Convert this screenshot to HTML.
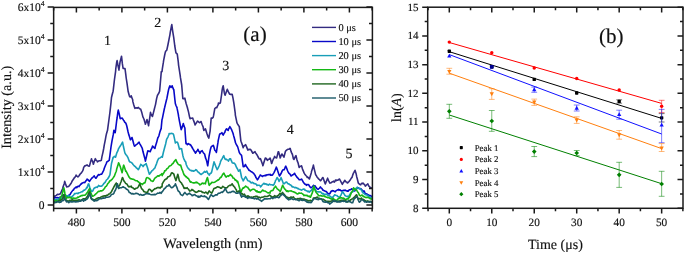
<!DOCTYPE html><html><head><meta charset="utf-8"><title>Figure</title><style>html,body{margin:0;padding:0;background:#fff}svg{display:block}text{font-family:"Liberation Serif","DejaVu Serif",serif;fill:#111;stroke:#111;stroke-width:0.15px;text-rendering:geometricPrecision}</style></head><body>
<svg width="685" height="254" viewBox="0 0 685 254">
<rect width="685" height="254" fill="#fff"/>
<clipPath id="ca"><rect x="53.65" y="7.4" width="318.75" height="201.0"/></clipPath>
<g clip-path="url(#ca)" fill="none" stroke-width="1.6" stroke-linejoin="round" stroke-linecap="round">
<path d="M54.0 196.5 L54.0 196.1 L55.1 196.1 L56.3 195.3 L57.4 194.4 L58.6 194.5 L59.7 194.0 L60.3 194.0 L60.8 192.8 L62.0 190.2 L62.7 188.5 L63.1 186.8 L64.3 183.4 L64.7 181.4 L65.4 183.6 L66.5 186.5 L66.6 186.9 L67.7 186.8 L68.8 186.2 L69.0 186.1 L70.0 184.8 L71.1 183.2 L71.3 183.0 L72.2 180.9 L73.4 179.3 L74.5 177.5 L74.5 177.7 L75.7 176.2 L76.1 175.1 L76.8 176.1 L77.7 176.7 L77.9 176.9 L79.1 175.7 L80.0 174.3 L80.2 174.0 L81.4 172.9 L82.5 171.1 L83.2 169.6 L83.6 167.7 L84.7 165.8 L84.8 166.2 L85.9 165.5 L87.1 164.9 L87.1 165.1 L88.2 165.9 L89.3 166.2 L89.5 165.8 L90.5 162.1 L91.5 158.7 L91.6 159.2 L92.8 162.0 L93.4 164.3 L93.9 162.6 L95.0 159.5 L95.3 158.7 L96.2 160.4 L97.3 161.1 L97.4 161.9 L98.5 161.1 L99.6 160.7 L100.7 160.7 L101.3 160.3 L101.9 156.9 L103.0 152.1 L103.7 148.5 L104.2 145.4 L105.3 139.8 L106.0 135.9 L106.4 134.1 L107.6 130.1 L107.6 129.6 L108.7 121.5 L109.9 112.5 L110.0 111.7 L111.0 102.6 L111.5 97.5 L112.1 95.0 L113.1 91.2 L113.3 89.8 L114.4 80.0 L115.6 71.3 L115.8 68.5 L116.7 62.3 L117.1 60.6 L117.8 64.5 L119.0 70.1 L119.0 69.4 L120.1 61.6 L120.2 61.4 L121.3 57.1 L121.5 56.2 L122.4 63.9 L123.1 68.5 L123.5 68.3 L124.7 68.8 L125.0 68.5 L125.8 74.7 L126.2 78.0 L127.0 83.1 L128.1 91.1 L128.1 91.2 L129.2 95.3 L129.7 96.7 L130.4 96.9 L131.3 95.9 L131.5 96.9 L132.7 99.8 L132.8 101.4 L133.8 105.0 L134.7 107.7 L134.9 108.4 L136.1 107.8 L137.2 108.2 L137.6 107.7 L138.4 107.4 L139.5 108.8 L140.6 109.0 L140.7 109.3 L141.8 112.6 L142.9 116.9 L143.1 117.2 L144.1 119.5 L145.2 123.4 L145.4 124.3 L146.3 121.7 L147.0 119.5 L147.5 121.2 L148.6 125.8 L148.6 125.5 L149.8 117.4 L150.5 112.4 L150.9 113.5 L152.0 115.9 L152.5 116.4 L153.2 113.6 L154.3 109.3 L154.9 106.9 L155.5 104.6 L156.6 98.6 L157.3 95.9 L157.7 94.9 L158.9 93.0 L159.6 91.2 L160.0 86.7 L161.2 72.8 L161.2 71.7 L162.0 71.7 L162.3 69.1 L163.4 62.2 L163.6 60.6 L164.6 55.5 L165.2 52.7 L165.7 51.1 L166.7 50.4 L166.9 49.6 L168.0 44.5 L169.1 38.8 L169.9 34.8 L170.3 32.2 L171.4 26.3 L171.8 24.6 L172.6 30.6 L173.0 33.2 L173.7 37.4 L174.8 46.0 L175.9 52.7 L176.0 52.9 L177.1 53.9 L177.3 54.3 L178.3 62.2 L178.6 65.3 L179.4 70.4 L180.1 74.8 L180.5 77.9 L181.7 85.0 L181.7 85.0 L182.8 98.2 L182.8 98.6 L184.0 98.6 L184.9 98.2 L185.1 99.5 L186.2 103.8 L187.2 106.9 L187.4 107.8 L188.5 111.9 L189.7 117.6 L190.1 118.7 L190.8 118.3 L191.9 118.3 L192.7 118.0 L193.1 119.3 L194.2 122.1 L195.1 125.0 L195.4 124.2 L196.5 122.7 L197.5 121.1 L197.6 121.0 L198.8 122.1 L199.5 122.7 L199.9 122.4 L201.1 121.5 L201.1 121.9 L202.2 124.8 L203.3 127.4 L203.3 128.3 L203.8 130.4 L204.5 129.7 L205.4 128.8 L205.6 129.3 L206.8 133.3 L206.9 133.5 L207.9 136.4 L208.8 138.2 L209.0 137.2 L210.1 131.2 L210.2 129.9 L211.2 118.0 L211.3 118.0 L212.5 118.1 L213.2 117.2 L213.6 115.4 L214.7 109.1 L214.8 108.5 L215.9 107.6 L216.9 107.7 L217.0 107.0 L218.2 104.7 L218.4 103.0 L219.3 103.4 L220.3 103.0 L220.4 102.7 L221.6 94.5 L222.2 89.6 L222.7 87.2 L223.2 85.8 L223.9 90.1 L224.3 92.7 L225.0 95.1 L225.1 95.1 L226.1 92.5 L227.3 89.3 L227.4 89.6 L228.4 91.8 L229.6 94.0 L229.8 94.3 L230.7 94.4 L231.8 94.3 L232.2 94.3 L233.0 98.2 L233.7 102.2 L234.1 104.8 L235.3 113.7 L235.3 114.8 L236.4 120.2 L236.9 122.7 L237.5 123.9 L238.7 125.8 L239.3 126.6 L239.8 131.2 L240.8 140.6 L241.0 141.3 L242.1 144.3 L243.2 147.7 L243.2 147.2 L244.4 145.6 L245.5 144.8 L245.6 144.6 L246.7 147.1 L247.8 149.9 L247.9 150.1 L248.9 149.3 L250.1 149.6 L250.3 149.3 L251.2 150.3 L252.4 152.5 L252.7 153.2 L253.5 152.7 L254.6 152.0 L255.0 151.7 L255.8 153.1 L256.9 154.7 L258.1 156.9 L258.2 157.2 L259.2 158.7 L260.3 159.2 L260.5 158.7 L261.5 161.5 L262.6 164.5 L262.9 165.8 L263.8 162.8 L264.9 159.2 L265.3 158.0 L266.0 158.2 L267.2 160.0 L267.6 160.3 L268.3 159.2 L269.5 159.1 L270.0 158.0 L270.3 158.7 L270.6 159.6 L271.6 163.5 L271.7 163.4 L272.9 160.1 L273.1 159.5 L274.0 157.8 L274.7 156.4 L275.2 157.5 L276.3 157.7 L276.6 158.0 L277.4 155.1 L278.2 151.7 L278.6 151.8 L279.7 155.8 L280.2 158.0 L280.9 156.1 L281.8 154.0 L282.0 154.0 L283.1 155.8 L283.9 157.2 L284.3 155.7 L285.4 151.5 L285.8 150.9 L286.6 150.2 L287.7 149.3 L288.1 149.3 L288.8 149.3 L290.0 148.4 L290.2 148.5 L291.1 151.6 L292.1 154.0 L292.3 153.9 L293.4 158.8 L294.0 159.5 L294.5 158.3 L295.7 155.8 L296.0 155.6 L296.8 159.2 L297.6 161.9 L298.0 162.6 L299.1 167.3 L299.2 167.4 L300.2 166.2 L301.4 166.2 L301.5 165.8 L302.5 169.1 L303.7 171.9 L303.9 172.7 L304.8 174.2 L305.9 175.5 L307.1 176.7 L307.1 177.5 L308.2 177.4 L309.4 179.0 L309.4 179.0 L310.5 175.6 L311.3 172.7 L311.6 171.2 L312.8 167.6 L313.4 165.1 L313.9 167.6 L315.1 172.4 L315.7 175.1 L316.2 175.3 L317.3 177.5 L318.1 178.2 L318.5 178.8 L319.6 179.7 L320.4 180.6 L320.8 180.6 L321.9 178.8 L322.8 177.5 L323.0 177.6 L324.2 181.0 L325.2 183.8 L325.3 183.9 L326.5 181.0 L327.6 178.2 L327.6 178.4 L328.7 180.8 L329.9 183.2 L329.9 183.0 L331.0 182.8 L332.2 181.8 L333.1 181.4 L333.3 181.2 L334.4 182.1 L335.6 180.0 L336.2 180.6 L336.7 180.1 L337.9 180.3 L339.0 179.2 L339.4 179.0 L340.1 180.2 L341.3 182.3 L342.4 184.4 L342.5 183.8 L343.6 182.3 L344.7 180.3 L344.9 180.6 L345.8 181.8 L347.0 182.2 L347.3 183.0 L348.1 182.5 L349.3 181.3 L349.6 180.6 L350.4 179.7 L351.5 177.8 L352.0 177.5 L352.7 175.1 L353.6 172.7 L353.8 172.7 L355.0 170.5 L355.1 170.4 L356.1 173.7 L356.7 176.7 L357.2 178.5 L358.3 183.0 L358.4 182.9 L359.5 184.2 L360.7 184.8 L360.7 184.6 L361.8 183.2 L362.9 183.7 L363.0 183.0 L364.1 184.2 L365.2 185.6 L365.4 186.1 L366.4 185.0 L367.5 184.1 L367.8 183.8 L368.6 185.8 L369.8 186.9 L370.1 187.7 L370.9 187.8 L372.1 188.3 L372.2 188.5 L372.2 188.5" stroke="#332b80"/>
<path d="M54.0 198.4 L54.0 198.0 L55.1 197.6 L56.3 197.8 L57.4 197.5 L58.6 198.1 L58.7 198.0 L59.7 197.2 L60.8 197.2 L61.9 196.4 L62.0 195.7 L63.1 195.2 L64.2 194.8 L64.3 195.2 L65.4 195.2 L66.5 195.9 L67.4 196.4 L67.7 196.0 L68.8 195.3 L69.8 194.8 L70.0 194.7 L71.1 192.6 L72.2 191.1 L72.9 190.1 L73.4 190.2 L74.5 188.2 L75.7 187.6 L76.1 186.9 L76.8 187.6 L77.9 186.2 L79.1 186.6 L79.2 186.1 L80.2 184.9 L81.4 183.5 L81.6 183.8 L82.5 182.9 L83.6 182.5 L84.7 182.2 L84.8 182.6 L85.9 180.9 L87.1 179.6 L87.1 179.0 L88.2 179.9 L89.3 181.2 L89.5 181.4 L90.5 179.8 L91.6 178.5 L91.8 178.2 L92.8 177.3 L93.9 176.2 L94.2 175.9 L95.0 177.2 L95.8 178.2 L96.2 178.2 L97.3 176.2 L98.2 175.1 L98.5 174.5 L99.6 174.9 L100.7 174.2 L101.3 174.3 L101.9 173.9 L103.0 171.6 L103.7 170.4 L104.2 168.5 L105.3 165.8 L106.4 163.2 L106.8 161.9 L107.6 161.5 L108.7 160.7 L109.2 160.3 L109.9 155.5 L111.0 147.0 L111.5 143.8 L112.1 140.4 L113.3 134.4 L113.9 130.4 L114.4 131.5 L115.2 132.7 L115.6 129.6 L116.7 120.5 L117.1 118.0 L117.8 112.5 L118.3 110.1 L119.0 112.9 L120.1 118.1 L120.2 118.7 L121.3 118.2 L122.1 118.0 L122.4 118.4 L123.5 120.2 L124.2 121.1 L124.7 122.1 L125.8 123.1 L126.5 125.0 L127.0 127.0 L128.1 132.0 L128.9 135.1 L129.2 135.8 L130.4 139.7 L130.5 139.8 L131.5 138.2 L132.0 137.5 L132.7 140.0 L133.8 144.2 L134.4 146.1 L134.9 146.0 L136.1 144.7 L137.2 144.1 L138.4 142.7 L139.1 142.2 L139.5 143.3 L140.6 145.2 L141.8 147.3 L142.3 148.5 L142.9 151.3 L144.1 155.8 L145.2 159.9 L145.4 161.1 L146.3 157.2 L147.5 152.0 L147.8 150.9 L148.6 151.1 L149.8 151.4 L150.2 151.7 L150.9 149.9 L152.0 147.9 L152.5 146.1 L153.2 146.7 L154.3 147.9 L154.9 148.5 L155.5 145.9 L156.6 142.6 L157.7 138.2 L158.1 137.5 L158.9 135.8 L160.0 131.6 L161.2 128.4 L161.2 128.0 L162.0 119.5 L162.3 118.9 L163.4 113.4 L164.4 108.5 L164.6 107.8 L165.7 103.1 L166.7 99.0 L166.9 98.4 L168.0 92.5 L168.6 89.6 L169.1 87.9 L169.9 85.8 L170.3 86.5 L171.1 87.4 L171.4 86.5 L172.2 85.8 L172.6 87.0 L173.7 89.9 L173.8 89.6 L174.8 99.0 L175.4 103.8 L176.0 105.5 L177.0 107.7 L177.1 108.4 L178.3 114.3 L178.6 116.4 L179.4 120.8 L180.5 126.3 L181.2 129.6 L181.7 128.4 L182.8 125.4 L183.3 123.5 L184.0 126.1 L184.9 128.0 L185.1 131.8 L186.0 143.8 L186.2 143.0 L187.4 144.7 L188.5 143.7 L189.7 144.6 L190.4 144.6 L190.8 145.3 L191.9 147.0 L192.7 148.5 L193.1 149.1 L194.2 151.0 L195.4 152.8 L195.4 153.2 L196.5 151.5 L197.6 150.2 L197.9 149.3 L198.8 151.3 L199.8 152.4 L199.9 153.4 L201.1 151.2 L202.2 150.7 L202.2 150.9 L203.3 152.7 L204.5 154.0 L204.6 154.0 L205.6 158.2 L206.2 159.5 L206.8 161.5 L207.7 165.8 L207.9 164.6 L209.0 156.5 L209.3 154.8 L210.2 150.3 L210.9 147.7 L211.3 146.7 L212.5 145.8 L213.2 145.3 L213.6 146.0 L214.7 149.8 L214.8 150.1 L215.9 151.3 L216.4 152.4 L217.0 148.3 L218.0 142.2 L218.2 140.7 L219.3 135.7 L219.6 134.3 L220.4 133.8 L221.6 133.1 L221.9 132.7 L222.7 134.3 L223.2 135.1 L223.9 133.6 L225.0 132.0 L225.1 131.2 L226.1 129.3 L226.6 128.8 L227.3 129.6 L228.2 130.4 L228.4 129.4 L229.6 127.1 L229.8 126.6 L230.7 128.0 L231.8 130.2 L232.2 131.2 L233.0 133.3 L233.7 135.9 L234.1 137.2 L235.3 141.8 L235.3 142.2 L236.4 144.7 L237.5 146.5 L237.7 146.9 L238.7 150.4 L239.3 152.4 L239.8 153.4 L241.0 154.8 L241.6 155.6 L242.1 158.8 L243.2 166.6 L243.2 166.7 L244.4 166.5 L245.5 164.5 L245.6 165.1 L246.7 166.8 L247.8 168.4 L248.7 169.6 L248.9 170.2 L250.1 170.7 L251.2 171.8 L251.9 171.9 L252.4 172.5 L253.5 173.1 L254.6 174.8 L255.0 175.1 L255.8 177.2 L256.9 178.9 L257.4 179.8 L258.1 178.9 L259.2 176.9 L259.8 175.9 L260.3 175.0 L261.5 175.9 L262.6 176.5 L262.9 175.9 L263.8 175.8 L264.9 175.4 L266.0 175.6 L266.1 175.1 L267.2 174.9 L268.3 174.6 L269.5 174.7 L270.0 174.3 L270.3 174.3 L270.6 175.2 L271.7 175.1 L272.4 175.1 L272.9 174.3 L274.0 172.6 L274.7 171.2 L275.2 170.0 L276.3 167.3 L276.3 167.1 L277.4 169.9 L278.6 173.5 L279.5 175.9 L279.7 175.7 L280.9 173.8 L281.8 171.9 L282.0 171.3 L283.1 169.8 L284.2 169.6 L284.3 169.5 L285.4 166.8 L285.8 166.2 L286.6 168.1 L287.7 171.0 L288.1 171.9 L288.8 173.2 L290.0 174.2 L291.1 176.0 L291.3 175.9 L292.3 175.1 L293.4 174.6 L294.4 173.5 L294.5 173.2 L295.7 175.5 L296.8 176.7 L296.8 177.1 L298.0 178.2 L299.1 179.5 L299.2 179.8 L300.2 179.8 L301.4 179.1 L301.5 179.0 L302.5 180.6 L303.7 182.8 L303.9 183.0 L304.8 184.1 L305.9 184.3 L306.3 185.3 L307.1 184.6 L308.2 184.7 L308.6 184.6 L309.4 186.0 L310.5 187.5 L311.0 187.7 L311.6 187.5 L312.8 186.3 L313.4 185.3 L313.9 186.0 L315.1 185.9 L315.7 186.9 L316.2 187.5 L317.3 189.0 L318.1 189.3 L318.5 189.0 L319.6 188.0 L320.4 186.9 L320.8 187.8 L321.9 188.4 L322.8 190.1 L323.0 189.9 L324.2 190.8 L325.3 191.2 L326.0 191.7 L326.5 191.6 L327.6 193.2 L328.7 193.9 L329.1 194.0 L329.9 193.5 L331.0 191.5 L332.2 190.6 L332.3 190.9 L333.3 190.7 L334.4 191.4 L335.4 191.7 L335.6 191.1 L336.7 190.4 L337.9 189.8 L338.6 189.3 L339.0 190.3 L340.1 189.7 L341.3 191.0 L341.7 190.9 L342.4 190.8 L343.6 190.3 L344.7 190.5 L344.9 190.1 L345.8 190.5 L347.0 191.1 L348.0 190.9 L348.1 191.2 L349.3 189.7 L350.4 189.7 L351.2 189.3 L351.5 188.8 L352.7 189.5 L353.8 190.7 L354.4 190.9 L355.0 190.7 L356.1 189.2 L357.2 188.3 L357.5 187.7 L358.4 187.8 L359.5 188.5 L360.7 188.9 L360.7 188.5 L361.8 189.7 L362.9 191.1 L363.8 191.7 L364.1 190.9 L365.2 193.5 L366.4 193.9 L367.0 194.0 L367.5 194.5 L368.6 195.0 L369.8 195.8 L370.1 195.6 L370.9 195.8 L372.1 197.1 L372.2 197.2 L372.2 197.2" stroke="#0808c8"/>
<path d="M54.0 199.7 L54.0 199.5 L55.1 199.9 L56.3 199.3 L57.4 199.2 L58.6 199.5 L59.7 198.1 L60.3 198.7 L60.8 199.2 L62.0 198.1 L63.1 198.2 L63.5 198.0 L64.3 197.8 L65.4 196.7 L65.8 196.4 L66.5 195.8 L67.7 195.9 L68.2 195.6 L68.8 195.8 L70.0 197.2 L71.1 197.3 L71.3 197.2 L72.2 196.4 L73.4 195.3 L74.5 194.0 L74.5 193.6 L75.7 193.6 L76.8 193.3 L77.7 193.2 L77.9 193.7 L79.1 192.7 L80.2 192.5 L81.4 191.9 L81.6 191.7 L82.5 191.7 L83.6 190.2 L84.7 190.1 L84.8 189.9 L85.9 189.0 L87.1 187.0 L87.1 187.7 L88.2 184.2 L88.7 183.8 L89.3 185.7 L90.0 188.5 L90.5 189.4 L91.6 191.5 L91.8 191.7 L92.8 190.9 L93.9 188.5 L95.0 187.7 L95.0 187.9 L96.2 187.1 L97.3 187.4 L98.2 186.1 L98.5 185.4 L99.6 186.1 L100.7 186.3 L101.3 186.1 L101.9 186.0 L103.0 184.7 L104.2 183.0 L104.5 183.0 L105.3 182.1 L106.4 180.0 L107.6 179.0 L107.6 179.0 L108.7 177.3 L109.9 174.9 L110.0 174.3 L111.0 167.1 L111.5 163.5 L112.1 161.2 L113.1 157.2 L113.3 157.7 L114.4 156.3 L115.5 157.2 L115.6 156.9 L116.7 153.2 L117.8 150.9 L118.6 148.5 L119.0 148.0 L120.1 146.2 L121.3 144.4 L122.4 142.3 L122.6 142.2 L123.5 146.8 L124.7 152.1 L125.0 153.2 L125.8 154.5 L126.8 155.6 L127.0 155.8 L128.1 157.9 L129.2 161.0 L129.7 161.9 L130.4 162.0 L131.5 162.6 L132.7 163.8 L132.8 164.3 L133.8 165.3 L134.9 166.3 L136.0 167.4 L136.1 167.7 L137.2 168.5 L138.3 169.6 L138.4 169.6 L139.5 167.4 L140.6 164.7 L140.7 164.3 L141.8 165.2 L142.9 166.0 L143.1 166.6 L144.1 165.0 L145.2 164.6 L146.2 163.5 L146.3 164.3 L147.5 167.8 L148.6 171.7 L149.4 174.3 L149.8 173.9 L150.9 172.3 L152.0 170.7 L152.5 170.4 L153.2 169.7 L154.3 168.4 L154.9 168.1 L155.5 166.2 L156.6 163.6 L157.7 160.3 L158.1 159.5 L158.9 158.2 L160.0 158.0 L161.2 157.0 L162.0 156.4 L162.3 157.1 L162.3 157.2 L163.4 152.3 L164.4 148.5 L164.6 147.7 L165.7 143.7 L166.7 139.0 L166.9 138.8 L168.0 136.8 L169.1 134.3 L169.1 133.6 L170.3 133.7 L171.4 133.3 L171.5 133.5 L172.6 133.6 L173.3 134.0 L173.7 135.1 L174.8 140.1 L175.4 143.0 L176.0 142.3 L177.1 142.1 L177.8 143.0 L178.3 144.7 L179.3 148.5 L179.4 149.2 L180.5 148.6 L181.7 148.8 L181.7 149.3 L182.8 155.2 L183.3 157.2 L184.0 159.1 L185.1 161.4 L185.7 161.9 L186.2 164.5 L187.4 167.1 L188.0 168.0 L188.5 168.7 L189.7 169.8 L190.4 170.4 L190.8 170.2 L191.9 171.0 L193.1 170.6 L193.5 171.2 L194.2 170.9 L195.4 170.2 L195.9 169.6 L196.5 169.9 L197.6 171.7 L198.8 172.5 L199.1 172.7 L199.9 173.7 L201.1 174.5 L201.4 174.3 L202.2 173.7 L203.3 172.8 L204.5 171.4 L204.6 171.9 L205.6 172.1 L206.8 171.0 L206.9 171.2 L207.9 173.6 L209.0 174.3 L209.3 175.1 L210.2 173.4 L211.3 172.9 L211.7 171.9 L212.5 168.3 L213.6 163.8 L214.0 161.9 L214.7 163.5 L215.9 166.6 L217.0 169.1 L217.2 169.6 L218.2 167.8 L219.3 165.5 L220.3 162.7 L220.4 161.8 L221.6 159.4 L222.2 158.7 L222.7 157.5 L223.8 155.6 L223.9 156.3 L225.0 159.0 L225.8 159.5 L226.1 159.1 L227.3 160.0 L228.2 160.3 L228.4 161.2 L229.6 158.8 L230.6 158.7 L230.7 159.3 L231.8 161.7 L232.2 162.7 L233.0 163.1 L234.1 163.0 L234.5 163.5 L235.3 164.4 L236.4 167.2 L236.9 168.0 L237.5 169.0 L238.5 171.2 L238.7 171.0 L239.8 170.2 L240.0 169.6 L241.0 174.5 L241.6 177.5 L242.1 178.5 L243.2 180.6 L243.2 181.0 L244.4 178.7 L245.5 176.9 L245.6 176.7 L246.7 178.7 L247.8 180.6 L247.9 180.6 L248.9 181.1 L250.1 181.6 L250.3 182.2 L251.2 183.0 L252.4 182.3 L253.4 183.0 L253.5 183.4 L254.6 183.6 L255.8 184.0 L256.6 184.6 L256.9 185.5 L258.1 185.2 L259.2 185.3 L260.3 185.9 L260.5 186.9 L261.5 185.9 L262.6 184.4 L263.7 183.8 L263.8 183.2 L264.9 184.2 L266.0 183.8 L266.9 184.6 L267.2 184.3 L268.3 185.1 L269.5 184.0 L270.0 184.6 L270.3 184.6 L270.6 184.8 L271.7 184.8 L272.9 185.1 L273.1 185.3 L274.0 184.5 L275.2 181.6 L275.5 180.6 L276.3 179.3 L277.1 177.5 L277.4 177.8 L278.6 180.0 L279.1 181.4 L279.7 180.5 L280.9 178.0 L281.0 177.5 L282.0 180.0 L283.1 182.8 L283.4 183.8 L284.3 183.8 L285.4 182.4 L285.8 182.2 L286.6 182.0 L287.7 183.5 L288.8 184.1 L288.9 183.8 L290.0 184.8 L291.1 185.3 L292.1 186.9 L292.3 186.4 L293.4 186.9 L294.5 187.6 L295.2 187.7 L295.7 187.4 L296.8 188.0 L298.0 188.7 L298.4 188.5 L299.1 189.3 L300.2 189.5 L301.4 190.0 L301.5 190.1 L302.5 189.6 L303.7 189.1 L304.7 189.3 L304.8 190.1 L305.9 190.6 L307.1 191.1 L307.8 191.7 L308.2 191.1 L309.4 192.1 L310.5 190.8 L311.0 190.9 L311.6 189.9 L312.8 188.6 L313.9 187.6 L314.1 187.7 L315.1 189.3 L316.2 191.0 L316.5 191.7 L317.3 191.8 L318.5 191.9 L319.6 192.0 L319.7 191.7 L320.8 192.1 L321.9 193.4 L322.8 194.0 L323.0 193.4 L324.2 194.3 L325.3 194.6 L326.0 194.0 L326.5 194.2 L327.6 195.2 L328.7 195.5 L329.1 195.6 L329.9 196.1 L331.0 197.0 L332.2 197.8 L332.3 198.0 L333.3 196.5 L334.4 195.4 L334.6 194.8 L335.6 195.3 L336.7 195.6 L337.0 195.6 L337.9 196.6 L339.0 196.9 L339.4 198.0 L340.1 196.7 L341.3 194.3 L342.4 191.8 L342.5 191.7 L343.6 193.3 L344.7 194.9 L344.9 195.6 L345.8 196.0 L347.0 196.4 L348.0 196.4 L348.1 197.0 L349.3 195.5 L350.4 193.7 L350.4 194.0 L351.5 192.2 L352.7 192.0 L352.8 191.7 L353.8 190.2 L355.0 188.6 L355.1 188.5 L356.1 188.7 L357.2 187.2 L357.5 187.7 L358.4 188.3 L359.5 188.9 L359.9 188.5 L360.7 189.4 L361.8 190.5 L362.2 191.7 L362.9 192.7 L364.1 193.4 L364.6 194.0 L365.2 194.6 L366.4 195.0 L367.5 195.2 L367.8 195.6 L368.6 196.3 L369.8 197.4 L370.9 197.4 L372.1 198.4 L372.2 198.7 L372.2 198.7" stroke="#189eb8"/>
<path d="M54.0 201.0 L54.0 201.1 L55.1 201.0 L56.3 200.3 L57.4 201.0 L58.6 201.2 L58.7 201.1 L59.7 199.3 L60.8 197.0 L61.9 195.6 L62.0 195.3 L63.1 190.4 L63.8 187.7 L64.3 189.9 L65.0 194.0 L65.4 194.9 L66.5 198.8 L66.6 198.0 L67.7 197.3 L68.8 197.7 L69.8 197.2 L70.0 197.2 L71.1 198.1 L72.2 198.0 L72.9 198.7 L73.4 198.0 L74.5 198.3 L75.7 198.3 L76.8 198.0 L77.7 197.2 L77.9 197.6 L79.1 196.8 L80.2 196.3 L81.4 195.5 L82.4 195.6 L82.5 195.4 L83.6 195.2 L84.8 195.2 L85.5 194.8 L85.9 194.3 L87.1 192.7 L87.9 191.7 L88.2 190.9 L89.3 188.9 L89.5 188.5 L90.5 192.6 L91.0 193.2 L91.6 194.5 L92.6 196.4 L92.8 196.2 L93.9 195.6 L95.0 194.8 L95.0 194.7 L96.2 193.7 L97.3 192.5 L98.2 191.7 L98.5 191.4 L99.6 191.4 L100.7 190.8 L101.3 190.9 L101.9 190.9 L103.0 190.1 L104.2 188.8 L104.5 188.5 L105.3 186.8 L106.4 186.1 L107.6 184.1 L107.6 183.8 L108.7 182.7 L109.9 180.8 L110.8 180.6 L111.0 180.2 L112.1 179.3 L113.3 177.6 L113.9 176.7 L114.4 176.1 L115.6 172.8 L116.3 171.2 L116.7 169.0 L117.8 165.6 L118.6 162.7 L119.0 163.6 L120.1 166.3 L120.2 166.6 L121.3 170.0 L122.1 172.7 L122.4 171.4 L123.5 165.5 L123.7 165.1 L124.7 168.1 L125.7 171.2 L125.8 170.7 L127.0 172.9 L128.1 175.2 L128.1 175.1 L129.2 177.3 L130.4 178.6 L131.3 179.0 L131.5 178.8 L132.7 179.3 L133.8 179.4 L134.4 179.8 L134.9 180.3 L136.1 180.8 L137.2 180.7 L137.6 181.4 L138.4 181.7 L139.5 183.1 L139.9 183.0 L140.6 183.5 L141.8 183.8 L142.3 184.6 L142.9 183.9 L144.1 182.9 L144.7 183.0 L145.2 182.1 L146.3 178.3 L147.0 177.5 L147.5 177.7 L148.6 178.0 L149.4 179.0 L149.8 178.8 L150.9 180.7 L152.0 181.1 L152.5 181.4 L153.2 181.2 L154.3 179.1 L155.5 177.6 L155.7 177.5 L156.6 176.8 L157.7 175.9 L158.8 175.9 L158.9 176.2 L160.0 175.1 L161.2 174.5 L162.0 173.5 L162.3 175.6 L162.3 175.1 L163.4 173.5 L164.4 171.9 L164.6 170.8 L165.7 170.7 L166.9 168.7 L168.0 168.1 L169.1 166.4 L169.9 165.8 L170.3 165.8 L171.4 165.1 L172.6 163.6 L173.0 163.5 L173.7 162.3 L174.8 160.7 L175.9 159.5 L176.0 160.1 L177.1 162.6 L177.8 163.5 L178.3 164.5 L179.4 164.8 L180.5 165.6 L180.6 165.1 L181.7 168.6 L182.8 171.2 L183.3 172.7 L184.0 174.6 L185.1 175.8 L185.7 176.7 L186.2 176.6 L187.4 178.1 L188.0 178.2 L188.5 178.6 L189.7 181.0 L190.4 182.2 L190.8 181.7 L191.9 182.4 L193.1 182.8 L193.5 183.0 L194.2 182.9 L195.4 182.4 L196.5 182.6 L196.7 182.2 L197.6 182.9 L198.8 183.7 L199.8 184.6 L199.9 184.9 L201.1 184.2 L202.2 183.2 L203.0 183.0 L203.3 183.7 L204.5 183.2 L205.4 183.8 L205.6 182.8 L206.8 179.0 L207.4 177.5 L207.9 179.3 L209.0 184.8 L209.3 185.3 L210.2 184.1 L211.3 183.1 L211.7 182.2 L212.5 182.4 L213.6 182.5 L214.7 182.3 L214.8 182.2 L215.9 181.4 L217.0 180.8 L218.0 179.8 L218.2 180.1 L219.3 179.2 L220.4 177.4 L221.1 177.5 L221.6 176.5 L222.7 174.4 L223.5 173.5 L223.9 173.2 L225.0 175.5 L225.8 176.7 L226.1 177.1 L227.3 176.0 L228.2 175.9 L228.4 176.3 L229.6 175.4 L230.6 174.3 L230.7 175.3 L231.8 175.8 L232.9 177.5 L233.0 178.0 L234.1 178.2 L235.3 180.3 L235.3 179.8 L236.4 180.4 L237.5 182.4 L237.7 181.4 L238.7 184.9 L239.3 186.9 L239.8 189.1 L240.8 191.7 L241.0 191.9 L242.1 189.4 L243.2 187.7 L243.2 188.3 L244.4 187.3 L245.5 186.4 L245.6 186.1 L246.7 186.9 L247.8 187.2 L247.9 187.7 L248.9 189.1 L250.1 190.4 L250.3 190.9 L251.2 190.2 L252.4 189.3 L253.4 189.3 L253.5 189.2 L254.6 189.5 L255.8 190.9 L256.6 191.7 L256.9 190.8 L258.1 192.1 L259.2 191.9 L259.8 192.4 L260.3 192.4 L261.5 191.4 L262.6 190.1 L262.9 190.1 L263.8 191.0 L264.9 191.0 L266.0 191.6 L266.1 191.7 L267.2 192.4 L268.3 192.9 L269.5 192.4 L270.0 193.2 L270.3 191.7 L270.6 191.2 L271.7 190.6 L272.9 190.4 L273.1 190.1 L274.0 188.2 L275.2 186.7 L275.5 186.1 L276.3 187.4 L277.4 189.1 L277.9 189.3 L278.6 189.8 L279.7 190.8 L280.2 191.7 L280.9 190.0 L282.0 186.9 L282.6 185.3 L283.1 186.0 L284.3 188.5 L285.0 189.3 L285.4 189.5 L286.6 191.4 L287.7 190.8 L288.1 191.7 L288.8 191.0 L290.0 191.0 L291.1 190.9 L291.3 190.9 L292.3 191.5 L293.4 191.8 L294.4 192.4 L294.5 192.2 L295.7 192.8 L296.8 193.7 L297.6 194.0 L298.0 193.8 L299.1 192.9 L300.2 193.2 L300.7 193.2 L301.4 193.1 L302.5 193.8 L303.7 194.9 L303.9 195.6 L304.8 195.2 L305.9 195.4 L307.1 195.6 L307.1 195.3 L308.2 196.5 L309.4 196.1 L310.2 197.2 L310.5 197.3 L311.6 194.4 L312.2 193.2 L312.8 191.3 L313.8 186.1 L313.9 186.4 L315.1 190.2 L315.7 191.7 L316.2 192.4 L317.3 193.7 L318.1 194.8 L318.5 195.7 L319.6 195.8 L320.8 195.4 L321.2 195.6 L321.9 196.1 L323.0 196.0 L324.2 195.9 L324.4 196.4 L325.3 196.6 L326.5 197.2 L327.6 197.2 L327.6 197.7 L328.7 197.4 L329.9 198.3 L330.7 198.7 L331.0 198.8 L332.2 199.3 L333.3 198.4 L333.9 199.5 L334.4 199.5 L335.6 200.2 L336.7 200.3 L337.0 200.3 L337.9 198.9 L339.0 198.4 L340.1 197.4 L340.2 198.0 L341.3 197.7 L342.4 198.1 L343.3 198.7 L343.6 198.0 L344.7 198.9 L345.8 199.7 L346.5 199.5 L347.0 198.7 L348.1 199.1 L349.3 197.0 L349.6 197.2 L350.4 195.3 L351.5 192.3 L352.0 191.7 L352.7 190.6 L353.6 187.7 L353.8 188.4 L355.0 189.4 L355.9 190.1 L356.1 189.3 L357.2 191.1 L357.5 191.7 L358.4 192.8 L359.5 195.4 L359.9 195.6 L360.7 195.9 L361.8 195.0 L362.9 195.7 L363.0 196.4 L364.1 196.6 L365.2 197.4 L366.2 197.2 L366.4 197.6 L367.5 197.3 L368.6 197.8 L369.3 198.0 L369.8 198.4 L370.9 198.9 L372.1 199.0 L372.2 199.5 L372.2 199.5" stroke="#14b814"/>
<path d="M54.0 202.0 L54.0 201.9 L55.1 202.2 L56.3 202.4 L57.4 201.7 L58.6 200.8 L59.7 200.6 L60.3 200.3 L60.8 199.9 L62.0 199.4 L62.7 198.7 L63.1 197.0 L63.8 194.8 L64.3 196.7 L65.0 199.5 L65.4 199.6 L66.5 200.4 L67.7 201.1 L68.2 201.1 L68.8 200.9 L70.0 200.2 L71.1 200.5 L72.2 199.7 L72.9 200.3 L73.4 200.2 L74.5 200.4 L75.7 200.3 L76.8 200.4 L77.7 200.3 L77.9 200.5 L79.1 199.7 L80.2 200.4 L81.4 200.0 L82.4 199.5 L82.5 199.2 L83.6 198.8 L84.8 198.9 L85.5 198.7 L85.9 198.3 L87.1 196.7 L87.9 195.6 L88.2 194.4 L89.3 191.7 L89.5 191.7 L90.5 196.0 L91.0 198.0 L91.6 198.9 L92.8 199.0 L93.4 200.3 L93.9 199.8 L95.0 199.5 L96.2 199.1 L96.6 198.7 L97.3 198.2 L98.5 197.8 L99.6 197.9 L99.7 198.0 L100.7 197.2 L101.9 196.6 L102.9 196.4 L103.0 196.4 L104.2 195.8 L105.3 196.3 L106.0 195.6 L106.4 195.3 L107.6 195.2 L108.7 194.1 L109.2 194.0 L109.9 193.6 L111.0 192.3 L111.5 191.7 L112.1 190.4 L113.3 188.1 L113.9 186.9 L114.4 186.0 L115.6 184.0 L116.3 183.0 L116.7 184.3 L117.8 186.9 L117.8 186.9 L119.0 186.0 L120.1 184.5 L120.2 183.8 L121.3 181.2 L122.4 177.6 L122.6 177.5 L123.5 179.8 L124.2 181.4 L124.7 181.9 L125.8 183.6 L126.5 183.8 L127.0 184.2 L128.1 186.2 L128.9 186.9 L129.2 186.6 L130.4 186.6 L131.3 186.1 L131.5 187.2 L132.7 187.7 L133.8 188.6 L134.4 189.3 L134.9 189.2 L136.1 188.2 L137.2 188.0 L137.6 187.7 L138.4 186.6 L139.5 184.4 L139.9 183.8 L140.6 186.1 L141.5 188.5 L141.8 188.9 L142.9 189.8 L143.9 191.7 L144.1 191.5 L145.2 192.0 L146.3 192.3 L147.0 192.4 L147.5 192.3 L148.6 189.8 L149.4 189.3 L149.8 189.3 L150.9 190.3 L151.8 191.7 L152.0 191.5 L153.2 190.1 L154.3 189.1 L154.9 188.5 L155.5 188.8 L156.6 188.1 L157.7 187.6 L158.1 187.7 L158.9 187.4 L160.0 188.1 L161.2 186.9 L162.0 186.9 L162.3 183.6 L162.3 183.8 L163.4 181.8 L164.4 180.6 L164.6 180.0 L165.7 179.2 L166.9 178.5 L167.5 177.5 L168.0 176.8 L169.1 176.4 L169.9 175.9 L170.3 175.8 L171.4 173.0 L172.2 172.7 L172.6 173.3 L173.7 173.8 L173.8 174.3 L174.8 177.4 L175.9 180.6 L176.0 180.5 L177.1 176.8 L177.8 174.3 L178.3 176.0 L179.3 180.6 L179.4 180.8 L180.5 182.1 L181.7 183.3 L181.7 183.8 L182.8 185.3 L184.0 187.8 L184.1 188.5 L185.1 187.9 L186.2 188.4 L187.2 187.7 L187.4 188.2 L188.5 189.3 L189.6 190.9 L189.7 191.1 L190.8 190.8 L191.9 189.4 L192.7 190.1 L193.1 190.1 L194.2 191.1 L195.4 192.0 L195.9 192.4 L196.5 192.3 L197.6 191.8 L198.8 190.7 L199.1 190.9 L199.9 191.3 L201.1 191.2 L202.2 192.0 L202.2 192.4 L203.3 192.4 L204.5 193.0 L205.4 192.4 L205.6 192.0 L206.8 192.9 L207.7 194.0 L207.9 193.3 L209.0 191.1 L209.3 190.9 L210.2 192.0 L211.3 192.9 L211.7 193.2 L212.5 191.7 L213.6 189.2 L214.0 188.5 L214.7 188.2 L215.9 187.9 L217.0 187.0 L217.2 186.9 L218.2 186.9 L219.3 187.3 L220.3 187.7 L220.4 188.1 L221.6 188.1 L222.7 186.3 L223.5 186.9 L223.9 187.1 L225.0 187.8 L226.1 188.0 L226.6 187.7 L227.3 187.4 L228.4 186.1 L229.6 185.4 L229.8 185.3 L230.7 185.4 L231.8 184.1 L232.2 183.8 L233.0 185.4 L234.1 186.6 L234.5 186.9 L235.3 188.4 L236.4 190.0 L236.9 191.7 L237.5 192.0 L238.7 191.0 L239.3 190.9 L239.8 191.9 L241.0 193.1 L241.6 194.0 L242.1 193.6 L243.2 194.6 L244.0 194.8 L244.4 194.2 L245.5 196.2 L246.7 196.2 L247.1 196.4 L247.8 195.8 L248.9 196.4 L250.1 197.1 L250.3 197.2 L251.2 197.1 L252.4 197.4 L253.4 197.2 L253.5 196.9 L254.6 196.8 L255.8 196.2 L256.6 196.4 L256.9 196.2 L258.1 197.3 L259.2 197.1 L260.3 198.0 L260.5 198.0 L261.5 197.2 L262.6 197.3 L263.8 196.8 L264.5 196.4 L264.9 196.4 L266.0 196.5 L267.2 196.5 L268.3 196.0 L269.5 195.0 L270.0 195.6 L270.3 195.6 L270.6 196.0 L271.7 196.7 L272.4 197.2 L272.9 197.0 L274.0 196.5 L274.7 195.6 L275.2 195.9 L276.3 196.4 L277.1 196.4 L277.4 196.0 L278.6 195.1 L279.5 194.0 L279.7 193.4 L280.9 194.4 L282.0 193.1 L282.6 192.4 L283.1 193.2 L284.3 194.5 L285.4 195.9 L285.8 196.4 L286.6 197.2 L287.7 197.2 L288.8 198.8 L288.9 198.0 L290.0 197.6 L291.1 197.1 L292.1 197.2 L292.3 197.6 L293.4 196.9 L294.5 198.6 L295.2 198.7 L295.7 199.3 L296.8 198.9 L298.0 198.5 L298.4 198.7 L299.1 199.2 L300.2 198.2 L301.4 198.7 L301.5 198.7 L302.5 199.1 L303.7 199.1 L304.7 199.5 L304.8 199.4 L305.9 199.7 L307.1 200.3 L307.8 200.3 L308.2 200.9 L309.4 200.8 L310.5 200.3 L311.0 201.1 L311.6 200.8 L312.8 199.9 L313.4 198.0 L313.9 198.3 L315.1 197.8 L316.2 197.8 L316.5 197.2 L317.3 197.1 L318.5 198.6 L319.6 198.6 L319.7 198.7 L320.8 198.8 L321.9 199.3 L322.8 199.5 L323.0 199.1 L324.2 199.9 L325.3 200.6 L326.0 201.1 L326.5 201.8 L327.6 201.2 L328.7 201.3 L329.1 201.9 L329.9 201.3 L331.0 201.2 L332.2 200.8 L332.3 200.3 L333.3 201.2 L334.4 201.4 L335.4 201.1 L335.6 201.3 L336.7 201.5 L337.9 201.3 L338.6 201.1 L339.0 201.6 L340.1 200.6 L341.3 200.3 L341.7 200.3 L342.4 200.3 L343.6 200.2 L344.7 200.2 L344.9 200.3 L345.8 200.7 L347.0 202.0 L348.0 201.9 L348.1 201.3 L349.3 200.8 L350.4 200.0 L351.2 199.5 L351.5 199.3 L352.7 198.7 L353.8 197.7 L354.4 197.2 L355.0 196.4 L356.1 195.1 L356.7 194.8 L357.2 196.2 L358.3 199.5 L358.4 199.3 L359.5 198.5 L360.7 198.9 L361.4 198.0 L361.8 198.9 L362.9 199.3 L364.1 199.9 L364.6 200.3 L365.2 200.8 L366.4 201.4 L367.5 200.9 L367.8 201.1 L368.6 201.4 L369.8 201.5 L370.9 201.2 L372.1 202.4 L372.2 201.9 L372.2 201.9" stroke="#1f661f"/>
<path d="M54.0 203.0 L54.0 202.7 L55.1 202.6 L56.3 202.1 L57.4 201.6 L58.6 201.9 L59.7 202.4 L60.3 201.9 L60.8 202.2 L62.0 200.7 L63.1 200.6 L63.5 200.3 L64.3 199.3 L64.7 198.0 L65.4 199.8 L66.5 201.9 L66.6 201.9 L67.7 201.5 L68.8 202.6 L70.0 201.5 L71.1 201.9 L71.3 201.9 L72.2 201.9 L73.4 201.7 L74.5 201.7 L75.7 201.9 L76.1 201.9 L76.8 201.8 L77.9 201.8 L79.1 201.3 L80.2 201.1 L80.8 201.1 L81.4 200.6 L82.5 199.7 L83.6 201.2 L84.8 199.6 L85.5 200.3 L85.9 199.6 L87.1 199.0 L87.9 198.0 L88.2 197.4 L89.3 195.2 L90.0 194.0 L90.5 195.6 L91.6 199.4 L91.8 199.5 L92.8 199.7 L93.9 200.9 L94.2 201.1 L95.0 200.4 L96.2 200.7 L97.3 200.4 L98.2 199.5 L98.5 199.6 L99.6 198.5 L100.7 198.7 L101.3 198.7 L101.9 198.7 L103.0 197.9 L104.2 198.2 L104.5 198.0 L105.3 197.9 L106.4 197.1 L107.6 197.3 L107.6 197.2 L108.7 197.0 L109.9 196.5 L110.8 195.6 L111.0 194.9 L112.1 194.3 L113.3 193.9 L113.9 193.2 L114.4 191.7 L115.6 189.8 L116.3 187.7 L116.7 185.5 L117.4 183.8 L117.8 185.3 L118.6 188.5 L119.0 188.2 L120.1 187.7 L121.0 187.7 L121.3 187.8 L122.4 187.1 L123.4 186.9 L123.5 187.2 L124.7 187.6 L125.8 188.4 L126.5 189.3 L127.0 189.4 L128.1 190.1 L128.9 191.7 L129.2 192.4 L130.4 192.8 L131.5 193.8 L132.0 194.0 L132.7 193.5 L133.8 194.1 L134.9 193.8 L136.0 193.2 L136.1 193.3 L137.2 193.5 L138.4 194.0 L139.5 195.0 L139.9 194.8 L140.6 194.3 L141.8 195.1 L142.9 195.3 L143.9 194.8 L144.1 195.0 L145.2 194.1 L146.3 193.7 L147.5 193.7 L148.6 194.0 L148.6 193.4 L149.8 194.2 L150.9 194.6 L152.0 194.7 L153.2 194.5 L153.3 194.8 L154.3 194.4 L155.5 194.6 L156.6 193.9 L157.7 193.1 L158.1 193.2 L158.9 193.3 L160.0 192.3 L161.2 193.3 L162.0 191.7 L162.3 191.7 L162.3 191.7 L163.4 190.1 L164.4 188.5 L164.6 188.6 L165.7 187.7 L166.7 186.1 L166.9 186.2 L168.0 186.0 L169.1 184.6 L169.1 184.8 L170.3 186.5 L171.4 187.6 L171.5 187.7 L172.6 187.4 L173.7 186.4 L173.8 186.1 L174.8 185.3 L175.4 183.8 L176.0 185.4 L177.1 187.9 L177.8 190.1 L178.3 191.0 L179.4 191.8 L180.1 193.2 L180.5 194.3 L181.7 195.1 L182.5 195.6 L182.8 195.2 L184.0 193.6 L184.9 192.4 L185.1 192.7 L186.2 194.0 L187.2 194.8 L187.4 194.7 L188.5 193.7 L189.6 193.2 L189.7 193.6 L190.8 194.4 L191.9 195.2 L192.0 195.6 L193.1 195.4 L194.2 194.6 L195.1 194.8 L195.4 195.5 L196.5 195.7 L197.6 196.6 L198.3 197.2 L198.8 196.2 L199.9 197.1 L201.1 195.6 L201.4 195.6 L202.2 196.3 L203.3 196.5 L204.5 195.9 L204.6 196.4 L205.6 196.6 L206.8 197.5 L207.9 198.9 L208.5 199.5 L209.0 198.5 L210.2 196.0 L210.9 194.8 L211.3 194.7 L212.5 196.1 L213.2 196.4 L213.6 196.1 L214.7 195.5 L215.9 194.7 L216.4 194.8 L217.0 195.1 L218.2 193.4 L219.3 193.3 L219.6 193.2 L220.4 192.8 L221.6 192.1 L222.7 192.4 L222.7 191.9 L223.9 190.9 L225.0 188.9 L225.4 188.5 L226.1 190.2 L227.3 192.5 L227.4 192.4 L228.4 192.7 L229.6 192.2 L230.6 192.4 L230.7 192.3 L231.8 191.6 L233.0 191.3 L233.7 191.7 L234.1 191.5 L235.3 192.5 L236.4 193.3 L236.9 193.2 L237.5 193.2 L238.7 192.7 L239.3 192.4 L239.8 193.0 L241.0 195.9 L241.6 197.2 L242.1 196.1 L243.2 196.0 L244.4 196.4 L244.8 196.4 L245.5 197.2 L246.7 197.4 L247.8 198.4 L247.9 198.0 L248.9 197.4 L250.1 197.8 L251.1 198.0 L251.2 197.9 L252.4 198.3 L253.5 198.3 L254.2 198.7 L254.6 198.9 L255.8 198.1 L256.9 199.1 L257.4 198.7 L258.1 198.6 L259.2 199.7 L260.3 200.2 L261.3 201.1 L261.5 201.3 L262.6 200.4 L263.8 199.5 L264.5 198.7 L264.9 199.0 L266.0 198.8 L267.2 199.0 L268.3 198.7 L269.5 198.7 L270.0 198.7 L270.3 198.7 L270.6 198.3 L271.7 197.8 L272.9 198.6 L273.1 198.0 L274.0 197.6 L275.2 197.8 L276.3 197.3 L276.3 197.2 L277.4 197.1 L278.6 197.7 L279.5 197.2 L279.7 196.4 L280.9 195.5 L282.0 194.5 L282.6 194.0 L283.1 194.4 L284.3 195.6 L285.4 196.6 L285.8 197.2 L286.6 198.2 L287.7 199.0 L288.8 199.8 L288.9 199.5 L290.0 199.4 L291.1 198.4 L292.1 198.7 L292.3 199.2 L293.4 199.6 L294.5 199.0 L295.2 199.5 L295.7 199.7 L296.8 199.8 L298.0 200.1 L298.4 200.3 L299.1 200.8 L300.2 199.9 L301.4 199.2 L301.5 200.3 L302.5 200.5 L303.7 200.2 L304.7 200.3 L304.8 200.5 L305.9 201.1 L307.1 202.3 L307.8 201.9 L308.2 202.4 L309.4 202.4 L310.5 202.5 L311.0 202.7 L311.6 202.2 L312.8 200.1 L313.9 198.6 L314.1 198.7 L315.1 198.6 L316.2 199.1 L317.3 199.5 L317.3 199.2 L318.5 199.6 L319.6 198.4 L320.4 198.7 L320.8 199.0 L321.9 199.5 L323.0 201.5 L323.6 201.9 L324.2 201.9 L325.3 202.3 L326.5 201.7 L326.8 201.9 L327.6 202.6 L328.7 202.8 L329.9 204.1 L329.9 203.5 L331.0 203.0 L332.2 202.1 L333.1 201.1 L333.3 200.4 L334.4 201.2 L335.6 201.0 L336.2 201.9 L336.7 201.2 L337.9 202.1 L339.0 201.3 L339.4 201.9 L340.1 201.9 L341.3 201.5 L342.4 200.9 L342.5 201.1 L343.6 201.4 L344.7 201.0 L345.7 201.9 L345.8 201.8 L347.0 202.0 L348.1 201.1 L348.8 201.1 L349.3 201.7 L350.4 201.8 L351.5 202.7 L352.0 202.7 L352.7 202.8 L353.8 199.4 L354.4 198.7 L355.0 198.4 L356.1 196.9 L356.7 197.2 L357.2 197.0 L358.4 200.2 L359.1 201.9 L359.5 202.2 L360.7 201.0 L361.4 199.5 L361.8 199.5 L362.9 200.1 L364.1 201.3 L364.6 201.9 L365.2 201.5 L366.4 202.2 L367.5 201.8 L367.8 201.9 L368.6 201.8 L369.8 202.1 L370.9 201.7 L372.1 202.9 L372.2 202.7 L372.2 202.7" stroke="#1a5a68"/>
</g>
<g stroke="#1a1a1a" stroke-width="1.5" fill="none">
<rect x="53.65" y="7.4" width="318.75" height="201.0"/>
<path d="M53.65 208.4v3.0M53.65 7.4v3.0M76.40 208.4v5.2M76.40 7.4v5.2M99.15 208.4v3.0M99.15 7.4v3.0M121.90 208.4v5.2M121.90 7.4v5.2M144.65 208.4v3.0M144.65 7.4v3.0M167.40 208.4v5.2M167.40 7.4v5.2M190.15 208.4v3.0M190.15 7.4v3.0M212.90 208.4v5.2M212.90 7.4v5.2M235.65 208.4v3.0M235.65 7.4v3.0M258.40 208.4v5.2M258.40 7.4v5.2M281.15 208.4v3.0M281.15 7.4v3.0M303.90 208.4v5.2M303.90 7.4v5.2M326.65 208.4v3.0M326.65 7.4v3.0M349.40 208.4v5.2M349.40 7.4v5.2M372.15 208.4v3.0M372.15 7.4v3.0M53.65 204.90h-6M372.4 204.90h-6M53.65 188.42h-3.4M372.4 188.42h-3.4M53.65 171.93h-6M372.4 171.93h-6M53.65 155.44h-3.4M372.4 155.44h-3.4M53.65 138.96h-6M372.4 138.96h-6M53.65 122.48h-3.4M372.4 122.48h-3.4M53.65 105.99h-6M372.4 105.99h-6M53.65 89.51h-3.4M372.4 89.51h-3.4M53.65 73.02h-6M372.4 73.02h-6M53.65 56.53h-3.4M372.4 56.53h-3.4M53.65 40.05h-6M372.4 40.05h-6M53.65 23.57h-3.4M372.4 23.57h-3.4M53.65 7.08h-6M372.4 7.08h-6"/>
</g>
<g font-size="11.6" text-anchor="middle">
<text x="76.4" y="226">480</text>
<text x="121.9" y="226">500</text>
<text x="167.4" y="226">520</text>
<text x="212.9" y="226">540</text>
<text x="258.4" y="226">560</text>
<text x="303.9" y="226">580</text>
<text x="349.4" y="226">600</text>
</g>
<g font-size="11.5" text-anchor="end">
<text x="44.6" y="209.0">0</text>
<text x="44.5" y="176.0">1x10<tspan font-size="7.5" dy="-5.6">4</tspan></text>
<text x="44.5" y="143.1">2x10<tspan font-size="7.5" dy="-5.6">4</tspan></text>
<text x="44.5" y="110.1">3x10<tspan font-size="7.5" dy="-5.6">4</tspan></text>
<text x="44.5" y="77.1">4x10<tspan font-size="7.5" dy="-5.6">4</tspan></text>
<text x="44.5" y="44.2">5x10<tspan font-size="7.5" dy="-5.6">4</tspan></text>
<text x="44.5" y="11.2">6x10<tspan font-size="7.5" dy="-5.6">4</tspan></text>
</g>
<text x="213" y="248" font-size="14.3" text-anchor="middle">Wavelength (nm)</text>
<text transform="translate(10.7 107.3) rotate(-90)" font-size="14.2" text-anchor="middle">Intensity (a.u.)</text>
<text x="255" y="41.2" font-size="21" text-anchor="middle">(a)</text>
<text x="107.4" y="45.3" font-size="14" text-anchor="middle">1</text>
<text x="157.8" y="27.1" font-size="14" text-anchor="middle">2</text>
<text x="225.7" y="70.4" font-size="14" text-anchor="middle">3</text>
<text x="290.2" y="134.3" font-size="14" text-anchor="middle">4</text>
<text x="349.1" y="158.2" font-size="14" text-anchor="middle">5</text>
<path d="M312 27.4H336" stroke="#332b80" stroke-width="1.4"/>
<text x="338.4" y="30.7" font-size="10.4">0 μs</text>
<path d="M312 41.5H336" stroke="#0808c8" stroke-width="1.4"/>
<text x="338.4" y="44.8" font-size="10.4">10 μs</text>
<path d="M312 55.6H336" stroke="#189eb8" stroke-width="1.4"/>
<text x="338.4" y="58.9" font-size="10.4">20 μs</text>
<path d="M312 69.7H336" stroke="#14b814" stroke-width="1.4"/>
<text x="338.4" y="73.0" font-size="10.4">30 μs</text>
<path d="M312 83.9H336" stroke="#1f661f" stroke-width="1.4"/>
<text x="338.4" y="87.2" font-size="10.4">40 μs</text>
<path d="M312 98.0H336" stroke="#1a5a68" stroke-width="1.4"/>
<text x="338.4" y="101.3" font-size="10.4">50 μs</text>
<g stroke="#1a1a1a" stroke-width="1.5" fill="none">
<rect x="427.7" y="7.2" width="255.3" height="201.10000000000002"/>
<path d="M428.06 208.3v3.0M428.06 7.2v3.0M449.30 208.3v5.2M449.30 7.2v5.2M470.54 208.3v3.0M470.54 7.2v3.0M491.77 208.3v5.2M491.77 7.2v5.2M513.00 208.3v3.0M513.00 7.2v3.0M534.24 208.3v5.2M534.24 7.2v5.2M555.48 208.3v3.0M555.48 7.2v3.0M576.71 208.3v5.2M576.71 7.2v5.2M597.94 208.3v3.0M597.94 7.2v3.0M619.18 208.3v5.2M619.18 7.2v5.2M640.41 208.3v3.0M640.41 7.2v3.0M661.65 208.3v5.2M661.65 7.2v5.2M682.88 208.3v3.0M682.88 7.2v3.0M427.7 208.24h-5.5M683.0 208.24h-5.5M427.7 193.88h-3.0M683.0 193.88h-3.0M427.7 179.52h-5.5M683.0 179.52h-5.5M427.7 165.16h-3.0M683.0 165.16h-3.0M427.7 150.80h-5.5M683.0 150.80h-5.5M427.7 136.44h-3.0M683.0 136.44h-3.0M427.7 122.08h-5.5M683.0 122.08h-5.5M427.7 107.72h-3.0M683.0 107.72h-3.0M427.7 93.36h-5.5M683.0 93.36h-5.5M427.7 79.00h-3.0M683.0 79.00h-3.0M427.7 64.64h-5.5M683.0 64.64h-5.5M427.7 50.28h-3.0M683.0 50.28h-3.0M427.7 35.92h-5.5M683.0 35.92h-5.5M427.7 21.56h-3.0M683.0 21.56h-3.0M427.7 7.20h-5.5M683.0 7.20h-5.5"/>
</g>
<g font-size="11.3" text-anchor="middle">
<text x="449.3" y="226">0</text>
<text x="491.8" y="226">10</text>
<text x="534.2" y="226">20</text>
<text x="576.7" y="226">30</text>
<text x="619.2" y="226">40</text>
<text x="661.6" y="226">50</text>
</g>
<g font-size="11" text-anchor="end">
<text x="418.6" y="211.5">8</text>
<text x="418.6" y="182.8">9</text>
<text x="418.6" y="154.1">10</text>
<text x="418.6" y="125.4">11</text>
<text x="418.6" y="96.7">12</text>
<text x="418.6" y="67.9">13</text>
<text x="418.6" y="39.2">14</text>
<text x="418.6" y="10.5">15</text>
</g>
<text x="555.4" y="249" font-size="14" text-anchor="middle">Time (μs)</text>
<text transform="translate(400.6 107.6) rotate(-90)" font-size="14" text-anchor="middle">ln(<tspan font-style="italic">A</tspan>)</text>
<text x="611.2" y="43.2" font-size="21" text-anchor="middle">(b)</text>
<path d="M449.30 51.70L661.65 118.40" stroke="#000000" stroke-width="1" fill="none"/>
<rect x="447.63" y="49.53" width="3.35" height="3.35" rx="0.7" fill="#000000"/>
<rect x="490.10" y="65.13" width="3.35" height="3.35" rx="0.7" fill="#000000"/>
<rect x="532.57" y="77.73" width="3.35" height="3.35" rx="0.7" fill="#000000"/>
<rect x="575.04" y="91.33" width="3.35" height="3.35" rx="0.7" fill="#000000"/>
<path d="M619.18 99.8V103.2M616.28 99.8h5.8M616.28 103.2h5.8" stroke="#000000" stroke-width="0.9" fill="none" opacity="0.6"/>
<rect x="617.51" y="99.73" width="3.35" height="3.35" rx="0.7" fill="#000000"/>
<path d="M661.65 113.6V122.0M658.75 113.6h5.8M658.75 122.0h5.8" stroke="#000000" stroke-width="0.9" fill="none" opacity="0.6"/>
<rect x="659.98" y="116.13" width="3.35" height="3.35" rx="0.7" fill="#000000"/>
<path d="M449.30 42.50L661.65 103.40" stroke="#ff0000" stroke-width="1" fill="none"/>
<circle cx="449.30" cy="42.10" r="1.72" fill="#ff0000"/>
<circle cx="491.77" cy="52.80" r="1.72" fill="#ff0000"/>
<circle cx="534.24" cy="68.00" r="1.72" fill="#ff0000"/>
<circle cx="576.71" cy="78.50" r="1.72" fill="#ff0000"/>
<circle cx="619.18" cy="90.00" r="1.72" fill="#ff0000"/>
<path d="M661.65 100.3V112.6M658.75 100.3h5.8M658.75 112.6h5.8" stroke="#ff0000" stroke-width="0.9" fill="none" opacity="0.6"/>
<circle cx="661.65" cy="106.20" r="1.72" fill="#ff0000"/>
<path d="M449.30 54.60L661.65 134.00" stroke="#1010ff" stroke-width="1" fill="none"/>
<path d="M449.30 53.67l2.14 3.91h-4.28z" fill="#1010ff"/>
<rect x="489.88" y="64.91" width="3.78" height="3.78" rx="0.7" fill="#000090"/>
<path d="M534.24 87.1V92.3M531.34 87.1h5.8M531.34 92.3h5.8" stroke="#1010ff" stroke-width="0.9" fill="none" opacity="0.6"/>
<path d="M534.24 87.37l2.14 3.91h-4.28z" fill="#1010ff"/>
<path d="M576.71 105.0V111.0M573.81 105.0h5.8M573.81 111.0h5.8" stroke="#1010ff" stroke-width="0.9" fill="none" opacity="0.6"/>
<path d="M576.71 105.87l2.14 3.91h-4.28z" fill="#1010ff"/>
<path d="M619.18 110.2V119.2M616.28 110.2h5.8M616.28 119.2h5.8" stroke="#1010ff" stroke-width="0.9" fill="none" opacity="0.6"/>
<path d="M619.18 112.17l2.14 3.91h-4.28z" fill="#1010ff"/>
<path d="M661.65 109.4V142.7M658.75 109.4h5.8M658.75 142.7h5.8" stroke="#1010ff" stroke-width="0.9" fill="none" opacity="0.6"/>
<path d="M661.65 122.67l2.14 3.91h-4.28z" fill="#1010ff"/>
<path d="M449.30 73.20L661.65 148.60" stroke="#ff7f0e" stroke-width="1" fill="none"/>
<path d="M449.30 68.3V74.2M446.40 68.3h5.8M446.40 74.2h5.8" stroke="#ff7f0e" stroke-width="0.9" fill="none" opacity="0.6"/>
<path d="M449.30 73.83l2.14 -3.91h-4.28z" fill="#ff7f0e"/>
<path d="M491.77 88.7V99.4M488.87 88.7h5.8M488.87 99.4h5.8" stroke="#ff7f0e" stroke-width="0.9" fill="none" opacity="0.6"/>
<path d="M491.77 96.13l2.14 -3.91h-4.28z" fill="#ff7f0e"/>
<path d="M534.24 99.1V105.4M531.34 99.1h5.8M531.34 105.4h5.8" stroke="#ff7f0e" stroke-width="0.9" fill="none" opacity="0.6"/>
<path d="M534.24 104.53l2.14 -3.91h-4.28z" fill="#ff7f0e"/>
<path d="M576.71 116.8V123.4M573.81 116.8h5.8M573.81 123.4h5.8" stroke="#ff7f0e" stroke-width="0.9" fill="none" opacity="0.6"/>
<path d="M576.71 122.43l2.14 -3.91h-4.28z" fill="#ff7f0e"/>
<path d="M619.18 130.5V139.2M616.28 130.5h5.8M616.28 139.2h5.8" stroke="#ff7f0e" stroke-width="0.9" fill="none" opacity="0.6"/>
<path d="M619.18 137.23l2.14 -3.91h-4.28z" fill="#ff7f0e"/>
<path d="M661.65 143.6V151.5M658.75 143.6h5.8M658.75 151.5h5.8" stroke="#ff7f0e" stroke-width="0.9" fill="none" opacity="0.6"/>
<path d="M661.65 150.53l2.14 -3.91h-4.28z" fill="#ff7f0e"/>
<path d="M449.30 115.00L661.65 183.70" stroke="#008000" stroke-width="1" fill="none"/>
<path d="M449.30 104.3V118.3M446.40 104.3h5.8M446.40 118.3h5.8" stroke="#008000" stroke-width="0.9" fill="none" opacity="0.6"/>
<path d="M449.30 108.97l2.33 2.33l-2.33 2.33l-2.33 -2.33z" fill="#008000"/>
<path d="M491.77 110.5V131.3M488.87 110.5h5.8M488.87 131.3h5.8" stroke="#008000" stroke-width="0.9" fill="none" opacity="0.6"/>
<path d="M491.77 118.67l2.33 2.33l-2.33 2.33l-2.33 -2.33z" fill="#008000"/>
<path d="M534.24 146.5V156.6M531.34 146.5h5.8M531.34 156.6h5.8" stroke="#008000" stroke-width="0.9" fill="none" opacity="0.6"/>
<path d="M534.24 149.28l2.33 2.33l-2.33 2.33l-2.33 -2.33z" fill="#008000"/>
<path d="M576.71 150.5V155.6M573.81 150.5h5.8M573.81 155.6h5.8" stroke="#008000" stroke-width="0.9" fill="none" opacity="0.6"/>
<path d="M576.71 150.68l2.33 2.33l-2.33 2.33l-2.33 -2.33z" fill="#008000"/>
<path d="M619.18 162.3V187.4M616.28 162.3h5.8M616.28 187.4h5.8" stroke="#008000" stroke-width="0.9" fill="none" opacity="0.6"/>
<path d="M619.18 172.48l2.33 2.33l-2.33 2.33l-2.33 -2.33z" fill="#008000"/>
<path d="M661.65 171.3V196.3M658.75 171.3h5.8M658.75 196.3h5.8" stroke="#008000" stroke-width="0.9" fill="none" opacity="0.6"/>
<path d="M661.65 181.68l2.33 2.33l-2.33 2.33l-2.33 -2.33z" fill="#008000"/>
<rect x="459.77" y="146.07" width="3.06" height="3.06" rx="0.7" fill="#000000"/>
<text x="474.7" y="150.6" font-size="8.8" stroke="none">Peak 1</text>
<circle cx="461.30" cy="159.40" r="1.57" fill="#ff0000"/>
<text x="474.7" y="162.4" font-size="8.8" stroke="none">Peak 2</text>
<path d="M461.30 168.96l1.95 3.57h-3.91z" fill="#1010ff"/>
<text x="474.7" y="174.0" font-size="8.8" stroke="none">Peak 3</text>
<path d="M461.30 184.74l1.95 -3.57h-3.91z" fill="#ff7f0e"/>
<text x="474.7" y="185.7" font-size="8.8" stroke="none">Peak 4</text>
<path d="M461.30 192.07l2.12 2.12l-2.12 2.12l-2.12 -2.12z" fill="#008000"/>
<text x="474.7" y="197.2" font-size="8.8" stroke="none">Peak 5</text>
</svg></body></html>
